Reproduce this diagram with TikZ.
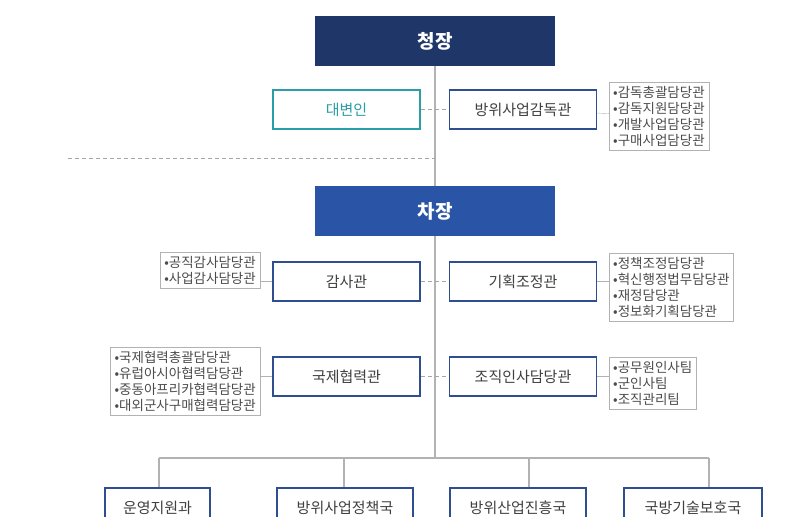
\documentclass[tikz,border=0pt]{standalone}
\usepackage{fontspec}
\setmainfont{Noto Sans CJK KR}
\begin{document}
\begin{tikzpicture}[x=1pt, y=-1pt,
    head/.style={rectangle, minimum width=240pt, minimum height=50pt, text=white, font=\bfseries\fontsize{19}{22}\selectfont},
    unit/.style={rectangle, draw=unitblue, line width=1.6pt, fill=white, minimum width=147pt, minimum height=39pt, text=black!75, font=\fontsize{15}{18}\selectfont},
    dept/.style={unit, minimum width=136pt},
    sub/.style={rectangle, draw=black!30, fill=white, align=left, inner sep=4pt, text=black!70, font=\fontsize{13.5}{16}\selectfont},
    link/.style={draw=black!30, line width=1.2pt},
    staff/.style={draw=black!35, line width=1pt, dash pattern=on 4pt off 3pt}
]
\definecolor{unitblue}{HTML}{2E4E8F}
\definecolor{chiefblue}{HTML}{1E3668}
\definecolor{vicechief}{HTML}{2A55A6}
\definecolor{teal}{HTML}{2A9DA6}
\useasboundingbox (0,0) rectangle (809,517);
\clip (0,0) rectangle (809,517);

% spine and branches
\coordinate (top) at (435,66);
\coordinate (bus) at (435,458);
\draw[link] (top) -- (bus);
\draw[staff] (68,158) -- (435,158);
\draw[link] (159,458) -- (709,458);
\foreach \x in {159,344,529,709} \draw[link] (\x,458) -- (\x,488);

% heads
\node[head, fill=chiefblue] (chief) at (435,41) {청장};
\node[head, fill=vicechief] (vice) at (435,211) {차장};

% staff units
\node[unit, draw=teal, text=teal] (spokes) at (346.5,109.5) {대변인};
\node[unit] (super) at (523,109.5) {방위사업감독관};
\node[unit] (audit) at (346.5,281.5) {감사관};
\node[unit] (plan) at (523,281.5) {기획조정관};
\node[unit] (intl) at (346.5,376.5) {국제협력관};
\node[unit] (org) at (523,376.5) {조직인사담당관};
\draw[staff] (spokes) -- (super);
\draw[staff] (audit) -- (plan);
\draw[staff] (intl) -- (org);

% sub lists
\node[sub, anchor=west] (superlist) at (609,116) {•감독총괄담당관\\•감독지원담당관\\•개발사업담당관\\•구매사업담당관};
\node[sub, anchor=east] (auditlist) at (260,270) {•공직감사담당관\\•사업감사담당관};
\node[sub, anchor=west] (planlist) at (609,287) {•정책조정담당관\\•혁신행정법무담당관\\•재정담당관\\•정보화기획담당관};
\node[sub, anchor=east] (intllist) at (260,381.5) {•국제협력총괄담당관\\•유럽아시아협력담당관\\•중동아프리카협력담당관\\•대외군사구매협력담당관};
\node[sub, anchor=west] (orglist) at (609,383.5) {•공무원인사팀\\•군인사팀\\•조직관리팀};
\draw[black!30] (super) -- (superlist);
\draw[black!30] (audit) -- (auditlist.east |- audit);
\draw[black!30] (plan) -- (planlist.west |- plan);
\draw[black!30] (intl) -- (intllist.east |- intl);
\draw[black!30] (org) -- (orglist.west |- org);

% departments
\node[dept, minimum width=105pt] (support) at (157.5,507.5) {운영지원과};
\node[dept] (policy) at (345,507.5) {방위사업정책국};
\node[dept] (promo) at (518,507.5) {방위산업진흥국};
\node[dept, minimum width=138pt] (protect) at (693,507.5) {국방기술보호국};
\end{tikzpicture}
\end{document}
